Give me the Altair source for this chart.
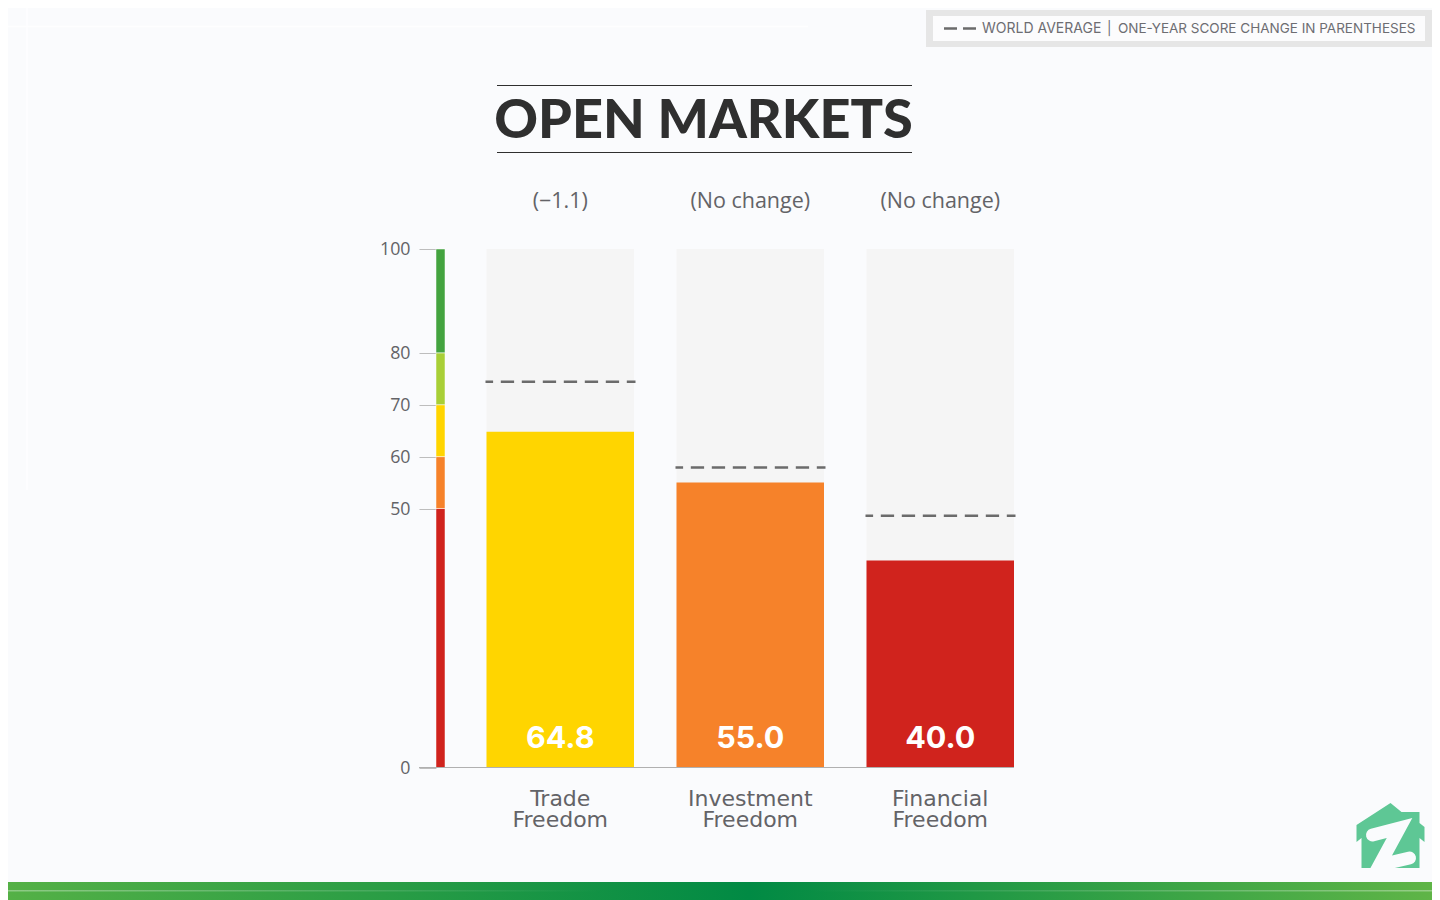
import altair as alt
import pandas as pd

categories = ['Trade Freedom', 'Investment Freedom', 'Financial Freedom']
scores = [64.8, 55.0, 40.0]
world_avg = [74.4, 57.9, 48.6]
changes = ['(\u22121.1)', '(No change)', '(No change)']
bar_colors = ['#ffd500', '#f6822a', '#d0231d']

band_lo = [0, 50, 60, 70, 80]
band_hi = [50, 60, 70, 80, 100]
band_colors = ['#d0231d', '#f6822a', '#ffd500', '#a8cf37', '#43a33f']
y_ticks = [0, 50, 60, 70, 80, 100]

BG = '#fafbfd'
TEXT = '#636367'
# page position of the plot area's top left corner
LEFT, TOP = 486.5, 249


def px(x):
  return alt.value(x - LEFT)


def py(y):
  return alt.value(y - TOP)


def page_rect(x0, x1, y0, y1, **kw):
  return (alt.Chart(one).mark_rect(**kw)
          .encode(x=px(x0), x2=px(x1), y=py(y0), y2=py(y1)))


def page_text(x, y, text, **kw):
  return (alt.Chart(pd.DataFrame({'t': [text]})).mark_text(**kw)
          .encode(x=px(x), y=py(y), text='t:N'))


def page_line(x0, x1, y, color, width=1, dash=None):
  mark = dict(color=color, strokeWidth=width)
  if dash:
    mark['strokeDash'] = dash
  return (alt.Chart(one).mark_rule(**mark)
          .encode(x=px(x0), x2=px(x1), y=py(y)))


def horizontal(stops):
  return alt.Gradient(gradient='linear', x1=0, x2=1, y1=0, y2=0, stops=[
      alt.GradientStop(color=c, offset=o) for c, o in stops])


one = pd.DataFrame({'k': [0]})
df = pd.DataFrame({'cat': categories, 'score': scores, 'avg': world_avg,
                   'change': changes, 'full': [100, 100, 100]})
bands = pd.DataFrame({'lo': band_lo, 'hi': band_hi, 'c': band_colors})

x = alt.X('cat:N', sort=categories, title=None, axis=None,
          scale=alt.Scale(paddingInner=0.2237, paddingOuter=0))
y = alt.Y('full:Q', title=None,
          scale=alt.Scale(domain=[0, 100], nice=False),
          axis=alt.Axis(values=y_ticks, offset=50.5, domain=False, grid=False,
                        tickSize=17, tickColor='#bdbdbd', labelPadding=9,
                        labelFont='Open Sans', labelFontSize=17.8,
                        labelOffset=0.7, labelColor=TEXT))

track = (alt.Chart(df).mark_bar(color='#f5f5f5')
         .encode(x=x, y=y))
bars = (alt.Chart(df).mark_bar()
        .encode(x=x, y=alt.Y('score:Q'),
                color=alt.Color('cat:N', legend=None, sort=categories,
                                scale=alt.Scale(domain=categories,
                                                range=bar_colors))))
avg = (alt.Chart(df).mark_rule(color='#6b6b6b', strokeWidth=2.5,
                               strokeDash=[13.3, 7.7], strokeDashOffset=5.7,
                               xOffset=-1, x2Offset=1.5)
       .encode(x=alt.X('cat:N', sort=categories, bandPosition=0),
               x2=alt.X2('cat:N', bandPosition=1), y='avg:Q'))
strip = (alt.Chart(bands).mark_rect(stroke='#ffffff', strokeWidth=0.5)
         .encode(x=px(436), x2=px(445), y='lo:Q', y2='hi:Q',
                 color=alt.Color('c:N', scale=None)))
baseline = page_line(419, 1014, 767.5, '#b0b0b0', 1.2)
values = (alt.Chart(df)
          .mark_text(font='Inter', fontWeight='bold', fontSize=30.5,
                     color='white')
          .encode(x=alt.X('cat:N', sort=categories), y=py(738.5),
                  text=alt.Text('score:Q', format='.1f')))
change_text = (alt.Chart(df)
               .mark_text(font='Open Sans', fontSize=21.5, color=TEXT)
               .encode(x=alt.X('cat:N', sort=categories), y=py(201.5),
                       text='change:N'))
names = (alt.Chart(df)
         .transform_calculate(lines="split(datum.cat, ' ')")
         .mark_text(font='DejaVu Sans', fontSize=22, color=TEXT, lineHeight=21,
                    baseline='top')
         .encode(x=alt.X('cat:N', sort=categories), y=py(788.5),
                 text='lines:N'))

title = page_text(703.5, 122, 'OPEN MARKETS', font='Lato', fontWeight=900,
                  fontSize=54, color='#2f2f2f')
legend_kw = dict(font='Inter', color='#6d6d72', align='left')
legend_left = page_text(982, 28.5, 'WORLD AVERAGE', fontSize=14, **legend_kw)
legend_sep = page_text(1107, 28.5, '|', fontSize=13.5, **legend_kw)
legend_right = page_text(1118, 28.5, 'ONE-YEAR SCORE CHANGE IN PARENTHESES',
                         fontSize=13.5, **legend_kw)

# house logo, path in pixels around its centre (size=4 gives 1 unit = 1 px)
house_path = ('M0,-32 L11,-23 L29,-23 L29,-12 L34,-8 L34,7 L29,3 L29,33 '
              'L-29,33 L-29,3 L-34,7 L-34,-10 Z')
z_path = 'M-18,0 L9,-7 L-11,30 L19,23'
house = (alt.Chart(one)
         .mark_point(shape=house_path, size=4, filled=True, color='#5ec795',
                     opacity=1)
         .encode(x=px(1390.5), y=py(835)))
z_mark = (alt.Chart(one)
          .mark_point(shape=z_path, size=4, filled=False, color='#fafbfd',
                      strokeWidth=13, strokeCap='round', strokeJoin='miter',
                      opacity=1)
          .encode(x=px(1390.5), y=py(835)))
ramp = horizontal([('#55b146', 0), ('#018a44', 0.52), ('#60b547', 1)])
sheen = horizontal([('rgba(255,255,255,0.35)', 0), ('rgba(255,255,255,0)', 0.42),
                    ('rgba(255,255,255,0)', 0.56), ('rgba(255,255,255,0.35)', 1)])
# faint white guides left in the backdrop
guide_h = page_line(8, 808, 26.5, '#fefeff', 1.5)
guide_v = (alt.Chart(one).mark_rule(color='#fefeff', strokeWidth=1.5)
           .encode(x=px(27), y=py(8), y2=py(490)))

chart = (alt.layer(
    guide_h, guide_v,
    track, bars, avg, strip, baseline, values, change_text, names,
    page_line(497, 912, 85.5, '#2f2f2f'), page_line(497, 912, 152.5, '#2f2f2f'),
    title,
    page_rect(926, 1432, 10, 47, color='#e6e6e6'),
    page_rect(933, 1425, 16, 41, color='#fcfcfd'),
    page_line(944, 976, 28.5, '#6b6b6b', 2.5, [13, 6]),
    legend_left, legend_sep, legend_right,
    house, z_mark,
    page_rect(1340, 1440, 868, 882, color=BG),
    page_rect(0, 1440, 882, 900, color=ramp),
    page_rect(0, 1440, 890, 891.5, color=sheen),
).resolve_scale(color='independent')
 .properties(width=527.5, height=519,
             autosize=alt.AutoSizeParams(type='none'),
             padding={'left': 478.5, 'top': 241, 'right': 418, 'bottom': 132},
             background=BG)
 .configure_view(stroke=None))

chart.save("out.html", embed_options={"renderer": "svg", "actions": False})
